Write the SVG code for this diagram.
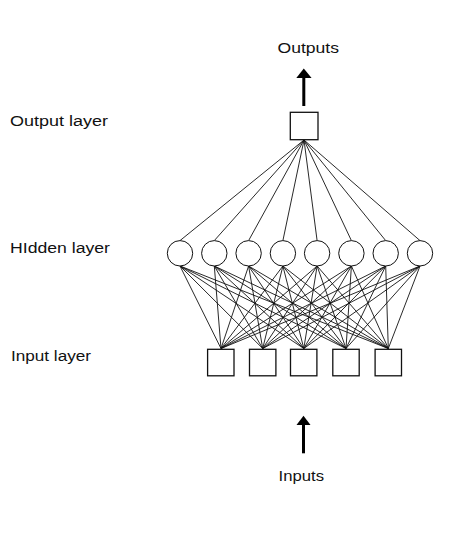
<svg xmlns="http://www.w3.org/2000/svg" width="474" height="542" viewBox="0 0 474 542">
<style>
.lbl{font-family:"Liberation Sans",Arial,sans-serif;font-size:15.5px;fill:#111}
.box{fill:#fff;stroke:#111;stroke-width:1.3}
.neuron{fill:#fff;stroke:#111;stroke-width:1}
.conn line{stroke:#111;stroke-width:0.9}
.arr{fill:#000}
</style>
<rect width="474" height="542" fill="#fff"/>
<g id="labels">
<text class="lbl" x="10" y="126" textLength="98" lengthAdjust="spacingAndGlyphs">Output layer</text>
<text class="lbl" x="10" y="252.5" textLength="100" lengthAdjust="spacingAndGlyphs">HIdden layer</text>
<text class="lbl" x="11" y="361" textLength="80" lengthAdjust="spacingAndGlyphs">Input layer</text>
<text class="lbl" x="277.5" y="52.5" textLength="61.5" lengthAdjust="spacingAndGlyphs">Outputs</text>
<text class="lbl" x="278.5" y="481" textLength="45.5" lengthAdjust="spacingAndGlyphs">Inputs</text>
</g>
<g id="connectors" class="conn">
<line x1="304" y1="140" x2="180" y2="240.6"/>
<line x1="304" y1="140" x2="214.3" y2="240.6"/>
<line x1="304" y1="140" x2="248.6" y2="240.6"/>
<line x1="304" y1="140" x2="282.9" y2="240.6"/>
<line x1="304" y1="140" x2="317.1" y2="240.6"/>
<line x1="304" y1="140" x2="351.4" y2="240.6"/>
<line x1="304" y1="140" x2="385.7" y2="240.6"/>
<line x1="304" y1="140" x2="420" y2="240.6"/>
<line x1="180" y1="266" x2="221" y2="348.5"/><line x1="180" y1="266" x2="262.7" y2="348.5"/><line x1="180" y1="266" x2="303.8" y2="348.5"/><line x1="180" y1="266" x2="346" y2="348.5"/><line x1="180" y1="266" x2="388.3" y2="348.5"/>
<line x1="214.3" y1="266" x2="221" y2="348.5"/><line x1="214.3" y1="266" x2="262.7" y2="348.5"/><line x1="214.3" y1="266" x2="303.8" y2="348.5"/><line x1="214.3" y1="266" x2="346" y2="348.5"/><line x1="214.3" y1="266" x2="388.3" y2="348.5"/>
<line x1="248.6" y1="266" x2="221" y2="348.5"/><line x1="248.6" y1="266" x2="262.7" y2="348.5"/><line x1="248.6" y1="266" x2="303.8" y2="348.5"/><line x1="248.6" y1="266" x2="346" y2="348.5"/><line x1="248.6" y1="266" x2="388.3" y2="348.5"/>
<line x1="282.9" y1="266" x2="221" y2="348.5"/><line x1="282.9" y1="266" x2="262.7" y2="348.5"/><line x1="282.9" y1="266" x2="303.8" y2="348.5"/><line x1="282.9" y1="266" x2="346" y2="348.5"/><line x1="282.9" y1="266" x2="388.3" y2="348.5"/>
<line x1="317.1" y1="266" x2="221" y2="348.5"/><line x1="317.1" y1="266" x2="262.7" y2="348.5"/><line x1="317.1" y1="266" x2="303.8" y2="348.5"/><line x1="317.1" y1="266" x2="346" y2="348.5"/><line x1="317.1" y1="266" x2="388.3" y2="348.5"/>
<line x1="351.4" y1="266" x2="221" y2="348.5"/><line x1="351.4" y1="266" x2="262.7" y2="348.5"/><line x1="351.4" y1="266" x2="303.8" y2="348.5"/><line x1="351.4" y1="266" x2="346" y2="348.5"/><line x1="351.4" y1="266" x2="388.3" y2="348.5"/>
<line x1="385.7" y1="266" x2="221" y2="348.5"/><line x1="385.7" y1="266" x2="262.7" y2="348.5"/><line x1="385.7" y1="266" x2="303.8" y2="348.5"/><line x1="385.7" y1="266" x2="346" y2="348.5"/><line x1="385.7" y1="266" x2="388.3" y2="348.5"/>
<line x1="420" y1="266" x2="221" y2="348.5"/><line x1="420" y1="266" x2="262.7" y2="348.5"/><line x1="420" y1="266" x2="303.8" y2="348.5"/><line x1="420" y1="266" x2="346" y2="348.5"/><line x1="420" y1="266" x2="388.3" y2="348.5"/>
</g>
<g id="arrow-out">
<rect class="arr" x="302.3" y="77" width="3" height="29"/>
<polygon class="arr" points="303.8,68.5 296.3,78 311.6,78"/>
</g>
<g id="arrow-in">
<rect class="arr" x="302" y="424" width="3" height="29.3"/>
<polygon class="arr" points="303.5,415.7 296.5,425 310.5,425"/>
</g>
<g id="output-node"><rect class="box" x="290.3" y="112.3" width="27.7" height="27.4"/></g>
<g id="hidden-1"><circle class="neuron" cx="180" cy="253.3" r="12.7"/></g>
<g id="hidden-2"><circle class="neuron" cx="214.3" cy="253.3" r="12.7"/></g>
<g id="hidden-3"><circle class="neuron" cx="248.6" cy="253.3" r="12.7"/></g>
<g id="hidden-4"><circle class="neuron" cx="282.9" cy="253.3" r="12.7"/></g>
<g id="hidden-5"><circle class="neuron" cx="317.1" cy="253.3" r="12.7"/></g>
<g id="hidden-6"><circle class="neuron" cx="351.4" cy="253.3" r="12.7"/></g>
<g id="hidden-7"><circle class="neuron" cx="385.7" cy="253.3" r="12.7"/></g>
<g id="hidden-8"><circle class="neuron" cx="420" cy="253.3" r="12.7"/></g>
<g id="input-1"><rect class="box" x="207.6" y="349.3" width="26.4" height="26.5"/></g>
<g id="input-2"><rect class="box" x="249.5" y="349.3" width="26.4" height="26.5"/></g>
<g id="input-3"><rect class="box" x="290.5" y="349.3" width="26.4" height="26.5"/></g>
<g id="input-4"><rect class="box" x="332.8" y="349.3" width="26.4" height="26.5"/></g>
<g id="input-5"><rect class="box" x="375.1" y="349.3" width="26.4" height="26.5"/></g>
</svg>
